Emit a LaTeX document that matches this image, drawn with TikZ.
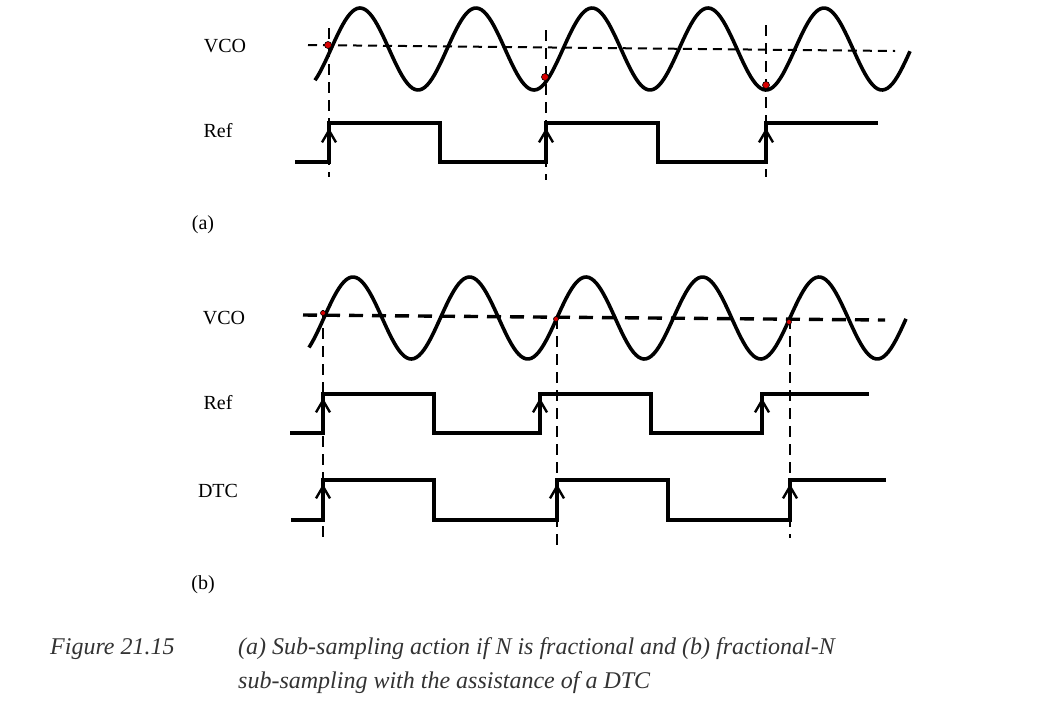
\documentclass[tikz,border=0pt]{standalone}
\usepackage{fontspec}
\setmainfont{Liberation Serif}
\usetikzlibrary{arrows.meta}
\begin{document}
\begin{tikzpicture}[x=1pt,y=-1pt,
  wave/.style={line width=3.6pt,line join=round},
  sq/.style={line width=3.4pt},
  hdash/.style={line width=2pt,dash pattern=on 9pt off 6pt},
  hdashb/.style={line width=3.4pt,dash pattern=on 14pt off 9pt},
  vdash/.style={line width=2.2pt,dash pattern=on 11pt off 7pt},
  edge/.style={line width=2.4pt,-{Straight Barb[length=12pt,width=14pt,line width=2.4pt]}},
  dot/.style={circle,fill=red!85!black,draw=black,line width=0.6pt,inner sep=0pt,minimum size=7pt},
  lbl/.style={font=\fontsize{20}{24}\selectfont,inner sep=0pt},
  captext/.style={font=\fontsize{24}{30}\selectfont\itshape,inner sep=0pt,anchor=base west,text=black!80}]
\useasboundingbox (0,0) rectangle (1051,713);
% ---------- (a) ----------
\node[lbl] (va) at (225,46) {VCO};
\node[lbl] (ra) at (218,131) {Ref};
\node[lbl] (la) at (203,225) {(a)};
\draw[wave] plot[domain=315:910,samples=240] (\x,{49-41*cos(3.1034*(\x-360))});
\coordinate (ha1) at (308,45); \coordinate (ha2) at (895,51);
\draw[hdash] (ha1) -- (ha2);
\foreach \n/\x/\t/\b in {a1/329/28/177,a2/546/30/180,a3/766/25/177}{
  \coordinate (\n t) at (\x,\t); \coordinate (\n b) at (\x,\b);
  \draw[vdash] (\n t) -- (\n b);}
\draw[sq] (295,162) -- (329,162) -- (329,123) -- (440,123) -- (440,162) -- (546,162) -- (546,123) -- (658,123) -- (658,162) -- (766,162) -- (766,123) -- (878,123);
\foreach \n/\x in {a1/329,a2/546,a3/766}{
  \coordinate (\n s) at (\x,162); \coordinate (\n e) at (\x,128);
  \draw[edge] (\n s) -- (\n e);}
\node[dot] (da1) at (328,45) {};
\node[dot] (da2) at (545,77) {};
\node[dot] (da3) at (766,85) {};
% ---------- (b) ----------
\node[lbl] (vb) at (224,318) {VCO};
\node[lbl] (rb) at (218,403) {Ref};
\node[lbl] (db) at (218,491) {DTC};
\node[lbl] (lb) at (203,585) {(b)};
\draw[wave] plot[domain=309:906,samples=240] (\x,{318-41*cos(3.0901*(\x-353))});
\coordinate (hb1) at (303,315); \coordinate (hb2) at (885,320);
\draw[hdashb] (hb1) -- (hb2);
\foreach \n/\x/\t/\b in {b1/323/310/538,b2/557/318/550,b3/790/318/538}{
  \coordinate (\n t) at (\x,\t); \coordinate (\n b) at (\x,\b);
  \draw[vdash,line width=2.8pt] (\n t) -- (\n b);}
\draw[sq] (290,433) -- (323,433) -- (323,394) -- (434,394) -- (434,433) -- (540,433) -- (540,394) -- (651,394) -- (651,433) -- (762,433) -- (762,394) -- (869,394);
\draw[sq] (291,520) -- (323,520) -- (323,480) -- (434,480) -- (434,520) -- (557,520) -- (557,480) -- (668,480) -- (668,520) -- (790,520) -- (790,480) -- (886,480);
\foreach \n/\x in {r1/323,r2/540,r3/762}{
  \coordinate (\n s) at (\x,433); \coordinate (\n e) at (\x,398);
  \draw[edge] (\n s) -- (\n e);}
\foreach \n/\x in {t1/323,t2/557,t3/790}{
  \coordinate (\n s) at (\x,520); \coordinate (\n e) at (\x,484);
  \draw[edge] (\n s) -- (\n e);}
\node[dot,minimum size=5pt] (db1) at (323,313) {};
\node[dot,minimum size=5pt] (db2) at (556,319) {};
\node[dot,minimum size=5pt] (db3) at (789,322) {};
% ---------- caption ----------
\node[captext] (c1) at (50,654) {Figure 21.15};
\node[captext] (c2) at (238,654) {(a) Sub-sampling action if N is fractional and (b) fractional-N};
\node[captext] (c3) at (238,688) {sub-sampling with the assistance of a DTC};
\end{tikzpicture}
\end{document}
